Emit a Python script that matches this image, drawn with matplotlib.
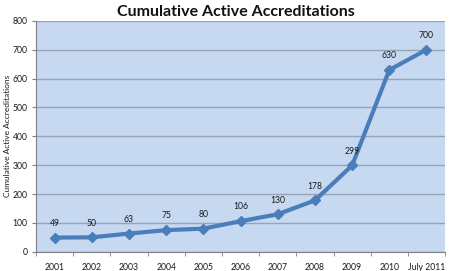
import matplotlib
matplotlib.use("Agg")
import matplotlib.pyplot as plt
from matplotlib.ticker import MultipleLocator, FixedLocator
import numpy as np

categories = ["2001", "2002", "2003", "2004", "2005", "2006", "2007", "2008", "2009", "2010", "July 2011"]
values = [49, 50, 63, 75, 80, 106, 130, 178, 299, 630, 700]
value_labels = ["49", "50", "63", "75", "80", "106", "130", "178", "299", "630", "700"]

plt.rcParams['font.family'] = ['Lato', 'DejaVu Sans']

fig = plt.figure(figsize=(4.74, 2.71), dpi=100)
ax = fig.add_axes([0.076, 0.071, 0.863, 0.852])

x = np.arange(len(categories))
ax.set_facecolor("#c6d9f1")
ax.plot(x, values, color="#4a7ebb", lw=3, marker="D", ms=5.5,
        markeredgecolor="#4a7ebb", zorder=3, solid_capstyle="round")

for xi, v, lab in zip(x, values, value_labels):
    ax.annotate(lab, (xi, v), xytext=(0, 7), textcoords="offset points",
                ha="center", va="bottom", fontsize=6.2, color="#1a1a1a")

ax.set_xlim(-0.5, len(categories) - 0.5)
ax.set_ylim(0, 800)
ax.yaxis.set_major_locator(MultipleLocator(100))
ax.set_xticks(x)
ax.set_xticklabels(categories, fontsize=6.2, color="#1a1a1a")
ax.xaxis.set_minor_locator(FixedLocator(np.arange(-0.5, len(categories), 1.0)))
ax.tick_params(axis="x", which="major", length=0, pad=8)
ax.tick_params(axis="x", which="minor", length=3, color="#808080")
ax.tick_params(axis="y", length=3, color="#808080", labelsize=6.2, labelcolor="#1a1a1a", pad=3)

ax.grid(axis="y", color="#98a4b6", lw=1)
ax.set_axisbelow(True)
for s in ["top", "right"]:
    ax.spines[s].set_visible(False)
ax.spines["left"].set_color("#808080")
ax.spines["bottom"].set_color("#808080")

ax.set_ylabel("Cumulative Active Accreditations", fontsize=6, color="#1a1a1a", labelpad=1.5)
fig.text(0.498, 0.955, "Cumulative Active Accreditations", ha="center", va="center",
         fontsize=11.5, fontweight="bold", color="#111111")

fig.savefig("out.png", dpi=100, facecolor="white")
